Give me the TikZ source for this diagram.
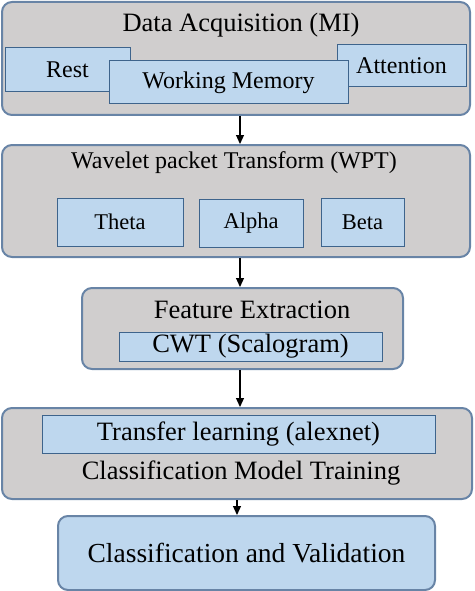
\documentclass[tikz,border=0pt]{standalone}
\usepackage{fontspec}
\setmainfont{Liberation Serif}
\usetikzlibrary{arrows.meta}

\definecolor{stagegray}{RGB}{208,206,206}
\definecolor{stageline}{RGB}{104,132,166}
\definecolor{subblue}{RGB}{190,215,238}
\definecolor{subline}{RGB}{62,100,140}

\tikzset{
    stage/.style={draw=stageline, line width=2pt, fill=stagegray, rounded corners=10pt, inner sep=0pt},
    sub/.style={draw=subline, line width=1pt, fill=subblue, inner sep=0pt},
    finalbox/.style={draw=stageline, line width=2pt, fill=subblue, rounded corners=10pt, inner sep=0pt},
    big/.style={font=\fontsize{26.5}{30}\selectfont},
    mid/.style={font=\fontsize{24}{28}\selectfont},
    small/.style={font=\fontsize{22.5}{26}\selectfont},
    flow/.style={-{Triangle[length=9pt,width=8pt]}, line width=1.2pt}
}

\begin{document}
\begin{tikzpicture}[x=1pt, y=-1pt]
            \useasboundingbox (0,0) rectangle (474,591);

            % data acquisition
            \node[stage, minimum width=468pt, minimum height=113pt] (acq) at (236,58.5) {};
            \node[big, inner sep=0pt] (acqtitle) at (241,25) {Data Acquisition (MI)};
            \node[sub, mid, minimum width=125pt, minimum height=44pt] (rest) at (67.5,70) {Rest};
            \node[sub, mid, minimum width=129pt, minimum height=42pt] (attn) at (401.5,66) {Attention};
            \node[sub, mid, minimum width=239pt, minimum height=43pt] (wm) at (228.5,82.5) {Working Memory};

            % wavelet packet transform
            \node[stage, minimum width=468pt, minimum height=112pt] (wpt) at (236,201) {};
            \node[mid, inner sep=0pt] (wpttitle) at (234,163) {Wavelet packet Transform (WPT)};
            \node[sub, small, minimum width=126pt, minimum height=48pt] (theta) at (120,222) {Theta};
            \node[sub, small, minimum width=104pt, minimum height=48pt] (alpha) at (251,223) {Alpha};
            \node[sub, small, minimum width=83pt, minimum height=48pt] (beta) at (362.5,222) {Beta};

            % feature extraction
            \node[stage, minimum width=321pt, minimum height=81pt] (feat) at (242.5,328.5) {};
            \node[big, inner sep=0pt] (feattitle) at (252,310) {Feature Extraction};
            \node[sub, big, minimum width=263pt, minimum height=29pt] (cwt) at (250.5,346.5) {CWT (Scalogram)};

            % training
            \node[stage, minimum width=470pt, minimum height=91pt] (train) at (237,453.5) {};
            \node[sub, big, minimum width=393pt, minimum height=38pt] (tl) at (238.5,434) {Transfer learning (alexnet)};
            \node[big, inner sep=0pt] (traintitle) at (241,473) {Classification Model Training};

            % validation
            \node[finalbox, font=\fontsize{27.5}{31}\selectfont, minimum width=377pt, minimum height=74pt] (valid) at (246.5,553) {Classification and Validation};

            \draw[flow] ([xshift=4pt]acq.south) -- ([xshift=4pt]acq.south |- wpt.north);
            \draw[flow] ([xshift=4pt]wpt.south) -- ([xshift=4pt]wpt.south |- feat.north);
            \draw[flow] ([xshift=-2.5pt]feat.south) -- ([xshift=-2.5pt]feat.south |- train.north);
            \draw[flow] (train.south) -- (train.south |- valid.north);
\end{tikzpicture}
\end{document}
